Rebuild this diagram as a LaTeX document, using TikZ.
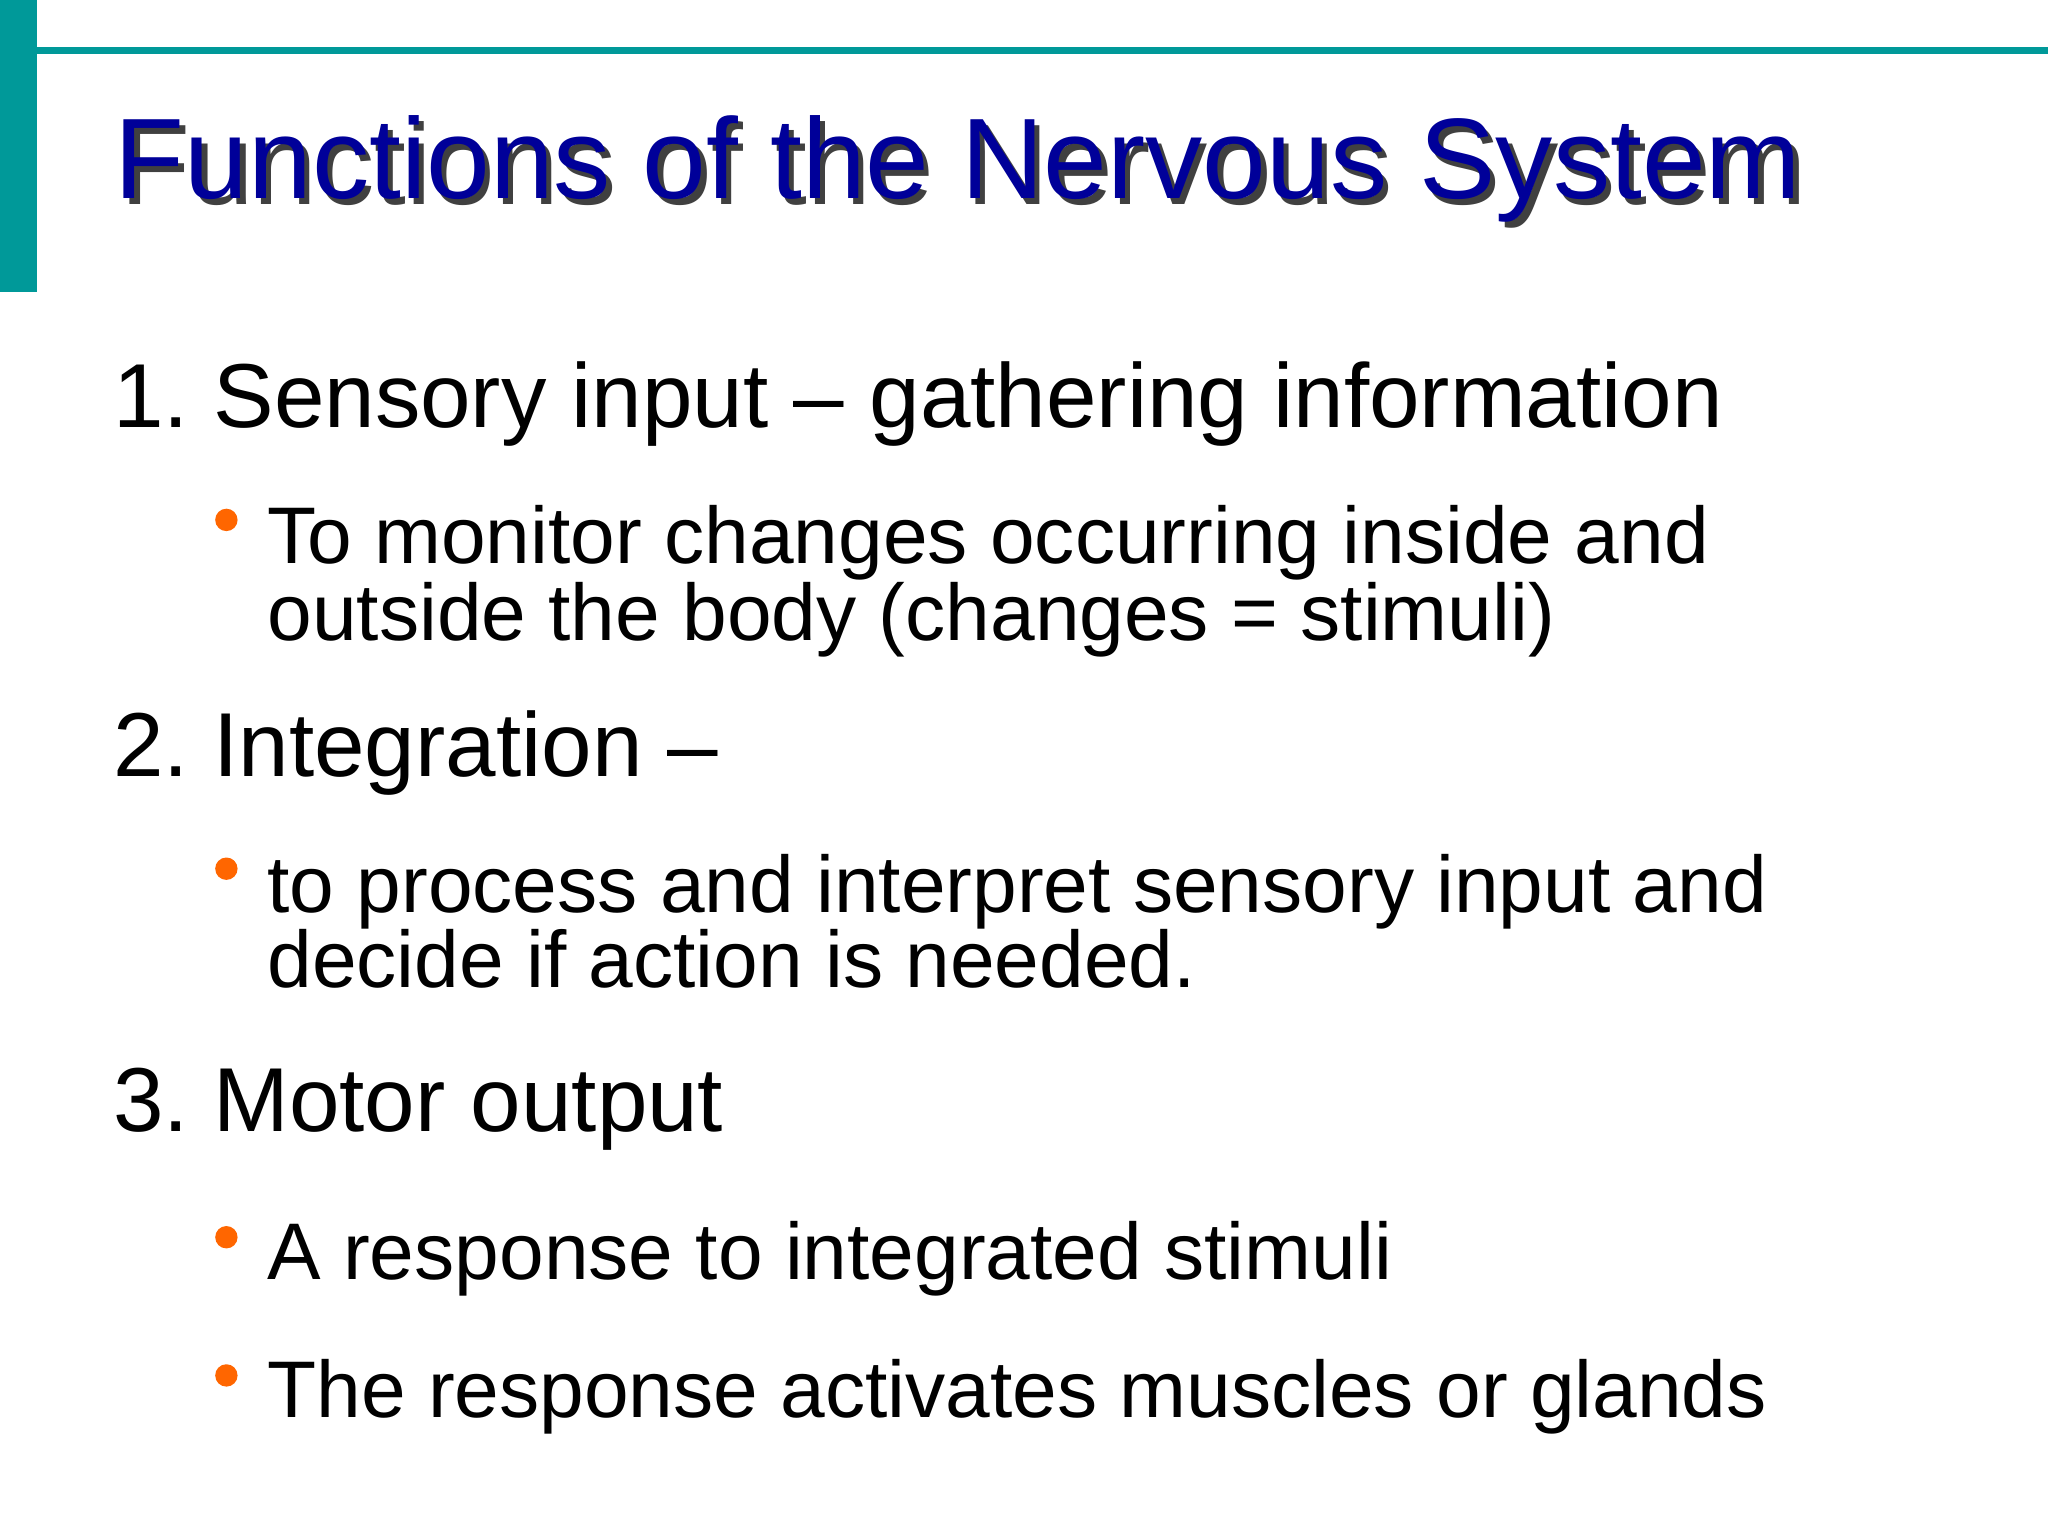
\documentclass[tikz,border=0pt]{standalone}
\usepackage{fontspec}
\setmainfont{Liberation Sans}
\definecolor{teal1}{RGB}{0,153,153}
\definecolor{tblue}{RGB}{0,0,153}
\definecolor{borange}{RGB}{255,102,0}
\begin{document}
\begin{tikzpicture}[x=1pt,y=-1pt,
  lvl/.style={anchor=base west,inner sep=0pt,font=\fontsize{69}{69}\selectfont},
  sub/.style={anchor=base west,inner sep=0pt,font=\fontsize{61}{61}\selectfont},
  dot/.style={circle,fill=borange,inner sep=0pt,minimum size=17pt}]
\useasboundingbox (0,0) rectangle (1556,1167);
\fill[white] (0,0) rectangle (1556,1167);
\fill[teal1] (0,0) rectangle (28,222);
\fill[teal1] (28,36) rectangle (1556,41);
\node[anchor=base west,inner sep=0pt,text=black!75,font=\fontsize{87}{87}\selectfont] (tsh) at (91,155) {Functions of the Nervous System};
\node[anchor=base west,inner sep=0pt,text=tblue,font=\fontsize{87}{87}\selectfont] (title) at (87,151) {Functions of the Nervous System};
\node[lvl] (n1) at (86,325) {1.};
\node[lvl] (i1) at (162,325) {Sensory input – gathering information};
\node[dot] (b1) at (172,395) {};
\node[sub] (s1) at (203,428) {To monitor changes occurring inside and};
\node[sub] (s1b) at (203,487) {outside the body (changes = stimuli)};
\node[lvl] (n2) at (86,590) {2.};
\node[lvl] (i2) at (162,590) {Integration –};
\node[dot] (b2) at (172,660) {};
\node[sub] (s2) at (203,693) {to process and interpret sensory input and};
\node[sub] (s2b) at (203,750) {decide if action is needed.};
\node[lvl] (n3) at (86,860) {3.};
\node[lvl] (i3) at (162,860) {Motor output};
\node[dot] (b3) at (172,940) {};
\node[sub] (s3) at (203,972) {A response to integrated stimuli};
\node[dot] (b4) at (172,1045) {};
\node[sub] (s4) at (203,1077) {The response activates muscles or glands};
\end{tikzpicture}
\end{document}
